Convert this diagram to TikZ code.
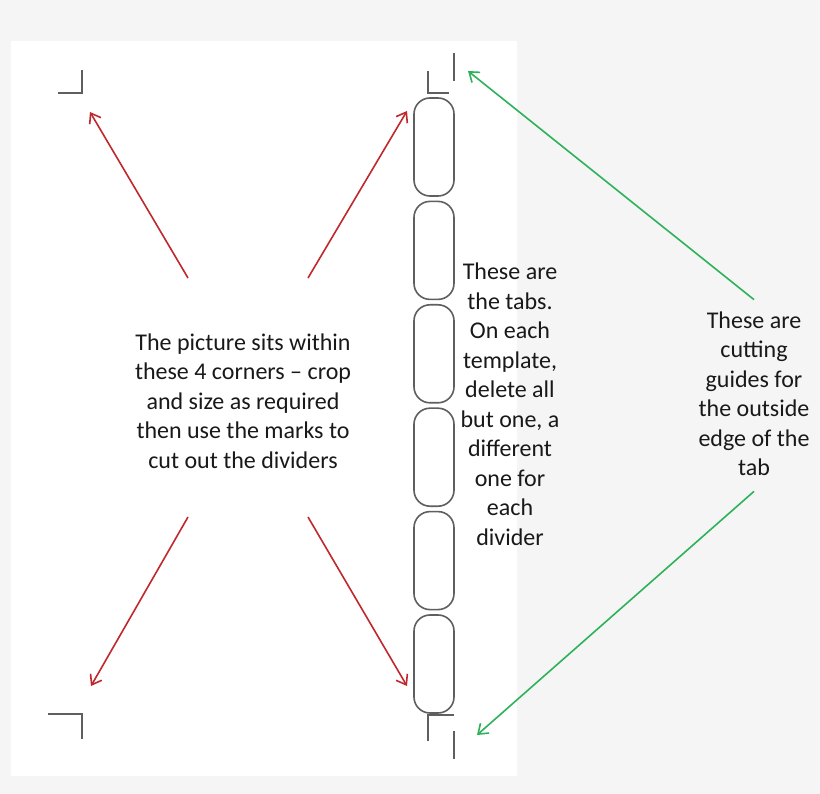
\documentclass[tikz,border=0pt]{standalone}
\usepackage{fontspec}
\setmainfont{Carlito}
\usetikzlibrary{arrows.meta,positioning}
\definecolor{pagegray}{HTML}{F5F5F5}
\definecolor{markgray}{HTML}{5F5F5F}
\definecolor{arrowred}{HTML}{C0282D}
\definecolor{arrowgreen}{HTML}{2DB25A}

\begin{document}
\begin{tikzpicture}[x=1pt,y=-1pt,
        font=\fontsize{24}{29.5}\selectfont,
        cropmark/.style={draw=markgray,line width=2pt},
        tab/.style={draw=markgray,line width=1.6pt,rounded corners=16pt,minimum width=40pt,minimum height=98pt,inner sep=0pt},
        note/.style={align=center,inner sep=0pt,text=black!90},
        redarrow/.style={draw=arrowred,line width=1.6pt,-{Straight Barb[length=9pt,width=13pt]}},
        greenarrow/.style={draw=arrowgreen,line width=1.6pt,-{Straight Barb[length=9pt,width=13pt]}}]

    % page and sheet
    \useasboundingbox[fill=pagegray] (0,0) rectangle (820,794);
    \fill[white] (11,41) rectangle (517,776);

    % corner marks
    \draw[cropmark] (58,93) -- (82,93) -- (82,70);
    \draw[cropmark] (48,714) -- (82,714) -- (82,739);
    \draw[cropmark] (428,71) -- (428,93) -- (449,93);
    \draw[cropmark] (454,53) -- (454,81);
    \draw[cropmark] (427,715) -- (428,715) -- (428,741);
    \draw[cropmark] (428,715) -- (454,715);
    \draw[cropmark] (454,731) -- (454,759);

    % tabs
    \foreach \i in {1,...,6}
        \node[tab] (tab\i) at (434,{147+103.4*(\i-1)}) {};

    % notes
    \node[note] (picture) at (243,401) {The picture sits within\\these 4 corners -- crop\\and size as required\\then use the marks to\\cut out the dividers};
    \node[note] (tabs) at (510,404) {These are\\the tabs.\\On each\\template,\\delete all\\but one, a\\different\\one for\\each\\divider};
    \node[note] (guides) at (754,394) {These are\\cutting\\guides for\\the outside\\edge of the\\tab};

    % arrow ends
    \coordinate (topleft) at (90,112);
    \coordinate (topright) at (407,111);
    \coordinate (bottomleft) at (91,686);
    \coordinate (bottomright) at (407,686);
    \coordinate (guidetop) at (468,71);
    \coordinate (guidebottom) at (477,735);
    \coordinate (picNW) at (188,278);
    \coordinate (picNE) at (308,278);
    \coordinate (picSW) at (188,517);
    \coordinate (picSE) at (308,517);

    \draw[redarrow] (picNW) -- (topleft);
    \draw[redarrow] (picNE) -- (topright);
    \draw[redarrow] (picSW) -- (bottomleft);
    \draw[redarrow] (picSE) -- (bottomright);
    \draw[greenarrow] ([yshift=12pt]guides.north) -- (guidetop);
    \draw[greenarrow] ([yshift=-15pt]guides.south) -- (guidebottom);
\end{tikzpicture}
\end{document}
